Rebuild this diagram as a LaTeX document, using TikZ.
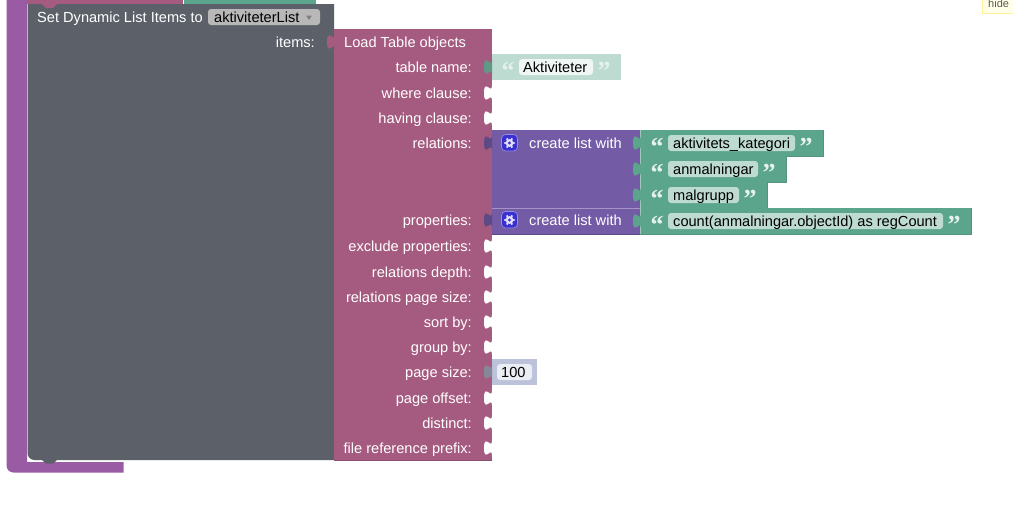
\documentclass[tikz,border=0pt]{standalone}
\usepackage{fontspec}
\setmainfont{Liberation Sans}
\newfontfamily\quotefont{Liberation Serif}
\definecolor{procpurple}{HTML}{9A5BA5}
\definecolor{loadpink}{HTML}{A55B80}
\definecolor{setgrey}{HTML}{5C6169}
\definecolor{listpurple}{HTML}{745BA5}
\definecolor{strgreen}{HTML}{5BA58C}
\definecolor{strlight}{HTML}{BEDBD1}
\definecolor{numlight}{HTML}{BDC2DB}
\definecolor{gearblue}{HTML}{3A2FD0}
\newcommand{\puzzletab}[3]{%
  \fill[#3] (#1+8,#2-7.5) .. controls (#1+8,#2+2.5) and (#1,#2-15.5) .. (#1,#2)
    .. controls (#1,#2+15.5) and (#1+8,#2-2.5) .. (#1+8,#2+7.5) -- cycle;}
\tikzset{
  every node/.style={inner sep=0pt,font=\fontsize{14.6}{17}\selectfont},
  rowtext/.style={text height=11pt,text depth=1pt},
  lab/.style={rowtext,text=white,anchor=east},
  head/.style={rowtext,text=white,anchor=west},
  field/.style={rounded corners=3pt},
  qmark/.style={text=#1,font=\quotefont\bfseries\fontsize{26}{26}\selectfont},
  ftext/.style={rowtext,text=black,anchor=west}
}
\begin{document}
\begin{tikzpicture}[x=1pt,y=-1pt]
  \useasboundingbox (0,0) rectangle (1013,504);
  % enclosing blocks
  \fill[procpurple] (6.5,-20) [rounded corners=7pt] -- (6.5,472.5) [sharp corners] -- (123.5,472.5) -- (123.5,462) -- (27,462) -- (27,-20) -- cycle;
  \fill[loadpink] (27,0) rectangle (182.5,4);
  \fill[strgreen] (183.5,0) rectangle (316,4);
  \fill[white] (27.5,448) rectangle (42,461.5);
  \fill[setgrey] (27.5,4) [rounded corners=7pt] -- (27.5,460) [sharp corners] -- (334,460) -- (334,4) -- cycle;
  \fill[setgrey] (42,460) -- (46,463.5) -- (53,463.5) -- (57,460) -- cycle;
  \fill[loadpink] (42,4) -- (46,8) -- (53,8) -- (57,4) -- cycle;
  \node[head] (settitle) at (37,17) {Set Dynamic List Items to};
  \fill[field,fill=black!28!white] (208,9) rectangle (320,25);
  \node[ftext] (listname) at (214,17) {aktiviteterList};
  \fill[black!50!white] (306,15.5) -- (312,15.5) -- (309,20) -- cycle;
  \node[lab] (itemslab) at (315,42) {items:};
  % load table block
  \fill[loadpink] (334,29) rectangle (492,460);
  \draw[loadpink!85!black,line width=0.8pt] (334,460) -- (492,460);
  \puzzletab{327}{42}{loadpink}
  \node[head] (loadtitle) at (344,42) {Load Table objects};
  \foreach \y/\lab in {67/table name:,93/where clause:,118/having clause:,143/relations:,220/properties:,246/exclude properties:,272/relations depth:,297/relations page size:,322/sort by:,347/group by:,372/page size:,398/page offset:,423/distinct:,448/file reference prefix:}
    \node[lab] (row\y) at (472,\y) {\lab};
  \foreach \y in {93,118,246,272,297,322,347,398,423,448}
    \puzzletab{484}{\y}{white}
  % table name
  \fill[strlight] (492,54) rectangle (621,80);
  \puzzletab{484}{67}{strgreen!85!black!90!white}
  \fill[field,fill=white!75!strlight] (519,59) rectangle (593,75);
  \node[qmark=white!60!strlight] (tableopen) at (508,71) {“};
  \node[qmark=white!60!strlight] (tableclose) at (604,71) {”};
  \node[ftext] (tablename) at (523,67) {Aktiviteter};
  % page size
  \fill[numlight] (492,359) rectangle (537,385);
  \puzzletab{484}{372}{numlight!70!black}
  \fill[field,fill=white!70!numlight] (497,364) rectangle (532,380);
  \node[ftext] (pagesize) at (501,372) {100};
  % create list blocks
  \fill[listpurple] (492,130) rectangle (640,234);
  \draw[listpurple!80!black,line width=0.8pt] (492,234) -- (640,234);
  \draw[listpurple!65!white,line width=0.7pt] (492,208) -- (640,208);
  \foreach \y in {143,220} {
    \puzzletab{484}{\y}{listpurple!80!black}
    \fill[rounded corners=4pt,fill=gearblue,draw=white!45!gearblue,line width=0.7pt] (501.5,\y-8.5) rectangle (517.5,\y+8);
    \fill[white!85!gearblue] (509.5,\y) circle (3.9pt);
    \foreach \a in {0,60,...,300}
      \fill[white!85!gearblue] (509.5,\y) ++(\a:4.4) circle (1.3pt);
    \fill[gearblue] (509.5,\y) circle (1.7pt);
    \node[head] (listlab\y) at (529,\y) {create list with};
  }
  % string blocks
  \foreach \y/\w/\fend/\txt in {143/823/795/aktivitets\_kategori,169/786/758/anmalningar,195/767/739/malgrupp,221/971/943/count(anmalningar.objectId) as regCount} {
    \fill[strgreen] (640,\y-13) rectangle (\w,\y+13);
    \draw[strgreen!90!black,line width=0.8pt] (640,\y+13) -- (\w,\y+13) -- (\w,\y-13);
    \draw[strgreen!60!white,line width=0.7pt] (640.5,\y-13) -- (640.5,\y+13);
    \puzzletab{633}{\y}{strgreen}
    \fill[field,fill=strlight] (668,\y-8) rectangle (\fend,\y+8);
    \node[qmark=white!60!strlight] (open\y) at (657,\y+4) {“};
    \node[qmark=white!60!strlight] (close\y) at (\fend+11,\y+4) {”};
    \node[ftext] (str\y) at (673,\y) {\txt};
  }
  % hide tooltip
  \begin{scope}
    \clip (975,0) rectangle (1013,20);
    \fill[yellow!10!white,draw=orange!30!yellow!40!white,line width=0.7pt] (982.5,-5) rectangle (1020,13);
    \node[text=black!65!white,anchor=west,font=\fontsize{11}{13}\selectfont] (hidetip) at (988,4) {hide};
  \end{scope}
\end{tikzpicture}
\end{document}
